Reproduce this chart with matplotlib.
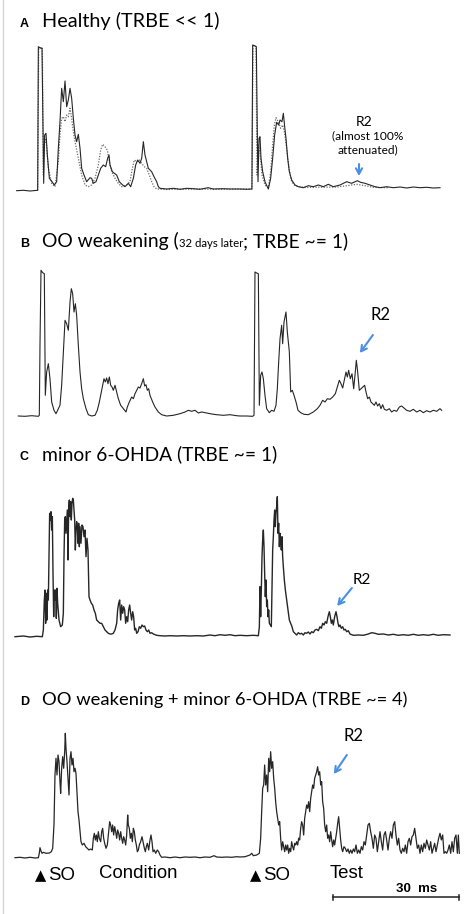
"""Blink reflex R2 traces for four conditions (panels A-D)."""

import matplotlib

matplotlib.use("Agg")
import matplotlib.pyplot as plt

W, H = 474, 914
TITLE_FONT = ["Lato", "DejaVu Sans"]
LABEL_FONT = ["Liberation Sans", "DejaVu Sans"]
TRACE = "#262626"
BLUE = "#4a8fe3"
AXIS_MS = 455 / 4.2  # the 30 ms bar is 126 px wide

# traces: (time in ms, amplitude in a.u. above baseline)
a_solid = [
    (1.59, 0.3), (3.17, 0.7), (4.76, 0), (6.59, 0.7), (6.75, 144.3), (7.14, 143.3), (7.62, 142.7),
    (7.86, 56), (8.02, 7.7), (8.25, 56), (8.57, 57.7), (8.89, 36), (9.37, 12.7), (10.0, 9.3),
    (10.56, 6), (11.11, 9.3), (11.51, 42.7), (11.90, 69.3), (12.30, 102.7), (12.70, 89.3),
    (13.10, 110), (13.49, 84.3), (13.89, 91), (14.29, 102.7), (14.68, 92.7), (15.08, 72.7),
    (15.48, 56), (15.87, 49.3), (16.27, 56.7), (16.67, 42.7), (17.06, 22.7), (17.62, 16),
    (18.25, 9.3), (19.05, 13.3), (19.44, 12.7), (19.84, 7.7), (20.48, 9.3), (21.03, 16),
    (21.59, 22.7), (22.22, 26), (22.78, 24.3), (23.25, 32.7), (23.57, 36), (23.81, 26),
    (24.37, 19.3), (24.84, 17.7), (25.40, 16), (26.03, 9.3), (26.83, 6), (27.38, 4.3),
    (28.17, 7.7), (28.73, 4.3), (29.37, 12.7), (29.92, 26), (30.40, 31), (30.95, 27.7),
    (31.35, 32.7), (31.75, 49.3), (32.14, 36), (32.54, 29.3), (32.94, 22.7), (33.73, 19.3),
    (34.29, 14.3), (34.92, 9.3), (35.32, 4.3), (35.71, 2.7), (37.3, 2), (38.9, 2.7),
    (40.5, 1.7), (42.1, 2.7), (43.65, 2.3), (45.2, 1.7), (47.2, 3.3), (48.4, 2), (50.8, 2.3),
    (52.4, 2), (54.76, 2), (56.35, 1.7), (57.6, 2), (57.78, 146), (58.25, 145.3), (58.65, 144.3),
    (58.89, 56), (59.05, 9.3), (59.29, 52.7), (59.52, 54.3), (59.76, 32.7), (60.16, 19.3),
    (60.71, 9.3), (61.51, 2), (62.06, 12.7), (62.54, 32.7), (63.01, 56), (63.49, 68.7),
    (63.97, 66), (64.29, 71), (64.76, 69.3), (65.08, 77.7), (65.40, 64.3), (65.71, 52.7),
    (66.11, 32.7), (66.51, 19.3), (67.06, 11), (67.86, 6), (68.65, 4.3), (69.84, 3.3),
    (71.03, 5.3), (72.22, 4.3), (73.41, 6), (74.6, 4.3), (75.79, 6.7), (76.98, 4.3), (78.57, 6),
    (80.16, 9.3), (81.35, 7.7), (82.7, 10.3), (83.49, 8.7), (84.52, 7.7), (85.71, 6),
    (86.9, 4.3), (88.1, 3.3), (89.68, 4.3), (91.27, 3.3), (92.86, 4), (94.44, 3), (96.03, 4),
    (97.62, 3.3), (99.21, 3.7), (100.79, 3), (102.38, 3.3),
]
a_dotted = [
    (6.59, 0.7), (6.83, 142.7), (7.70, 143.3), (7.94, 16), (8.17, 46), (8.57, 52.7), (9.13, 22.7),
    (9.92, 7.7), (10.71, 4.3), (11.51, 29.3), (11.90, 56), (12.30, 72.7), (12.70, 74.3),
    (13.10, 69.3), (13.49, 76), (13.89, 74.3), (14.29, 82.7), (14.68, 72.7), (15.08, 59.3),
    (15.48, 49.3), (16.27, 32.7), (17.06, 16), (17.86, 6), (18.65, 4.3), (19.44, 6),
    (20.24, 12.7), (21.03, 26), (21.59, 41), (22.06, 46.7), (22.62, 44.3), (23.17, 41),
    (23.65, 29.3), (24.21, 19.3), (25.0, 12.7), (25.79, 7.7), (26.59, 4.3), (27.78, 6),
    (28.57, 9.3), (29.13, 22.7), (29.60, 31), (30.16, 29.3), (30.79, 31), (31.35, 27.7),
    (31.98, 24.3), (32.54, 22.7), (33.17, 16), (33.73, 9.3), (34.29, 4.3), (34.92, 2),
    (37.3, 1.5), (40.0, 1.8), (45.0, 2.0), (50.0, 1.7), (55.0, 2.0), (57.6, 2), (57.86, 145.3),
    (58.57, 144.3), (58.81, 16), (59.13, 46), (59.52, 39.3), (60.0, 16), (60.71, 6), (61.51, 3.3),
    (62.06, 19.3), (62.54, 46), (62.94, 66), (63.33, 73.3), (63.89, 69.3), (64.44, 62.7),
    (64.92, 66), (65.32, 59.3), (65.87, 42.7), (66.43, 22.7), (67.06, 9.3), (67.86, 5.3),
    (70.0, 3.5), (74.0, 3.8), (78.0, 4.0), (80.16, 5.3), (82.54, 6.7), (84.52, 5.3), (86.5, 3.7),
    (90.0, 3.3),
]
b_trace = [
    (1.98, 0), (3.57, -0.3), (5.16, 0.3), (6.75, -0.3), (6.98, 0.7), (7.14, 70.7), (7.38, 145.7),
    (7.78, 143.3), (8.17, 142.3), (8.41, 20.7), (8.73, 44), (9.13, 52.3), (9.52, 37.3),
    (9.92, 14), (10.48, 5.7), (10.95, 2.3), (11.51, 7.3), (11.9, 10.7), (12.3, 30.7), (12.7, 64),
    (13.1, 95.7), (13.49, 92.3), (13.89, 85.7), (14.29, 114), (14.6, 127.3), (14.92, 122.3),
    (15.24, 104), (15.56, 112.3), (15.87, 100.7), (16.27, 70.7), (16.67, 44), (17.06, 27.3),
    (17.46, 17.3), (18.1, 7.3), (18.65, 1.3), (19.44, 0), (20.24, 0.7), (20.79, 5.7),
    (21.27, 14), (21.67, 22.3), (22.06, 30.7), (22.38, 37.3), (22.7, 34), (23.02, 38),
    (23.33, 32.3), (23.65, 39), (23.97, 30.7), (24.29, 29), (24.6, 25.7), (25.0, 30.7),
    (25.4, 24), (25.79, 17.3), (26.35, 10.7), (26.98, 7.3), (27.62, 4), (27.94, 9), (28.41, 14),
    (28.97, 19), (29.37, 17.3), (29.76, 22.3), (30.16, 25.7), (30.56, 29), (30.95, 28),
    (31.35, 32.3), (31.75, 37.3), (32.06, 30), (32.38, 31.3), (32.7, 25.7), (33.02, 27.3),
    (33.33, 20.7), (33.97, 14), (34.52, 9), (35.32, 4), (36.11, 1.3), (37.3, 0), (38.89, 0.7),
    (40.48, 2.3), (41.67, 4), (42.46, 5.7), (43.25, 4.7), (44.05, 5.7), (44.84, 3), (45.63, 4),
    (46.83, 3), (48.02, 2), (49.21, 1.3), (50.79, 0.7), (52.38, 1.3), (53.97, 0.3),
    (54.76, 0), (56.35, 0), (57.78, -0.3), (58.1, 0.7), (58.33, 144), (58.73, 143),
    (59.13, 142.3), (59.37, 10.7), (59.68, 40.7), (60.0, 44), (60.32, 37.3), (60.71, 20.7),
    (61.11, 7.3), (61.75, 3.3), (62.3, 5.7), (62.86, 4.7), (63.33, 10.7), (63.65, 27.3),
    (63.97, 54), (64.29, 77.3), (64.68, 90.7), (64.92, 72.3), (65.24, 94), (65.71, 104),
    (66.03, 84), (66.51, 64), (66.83, 24), (67.22, 25.7), (67.62, 20.7), (68.1, 14),
    (68.57, 5.7), (69.21, 3.3), (70.0, 1.7), (71.03, 1.3), (72.22, 4), (73.17, 7.3),
    (73.81, 10.7), (74.44, 15.7), (75.0, 14), (75.56, 17.3), (76.19, 16.7), (76.83, 19),
    (77.46, 22.3), (77.94, 29), (78.41, 35.7), (78.81, 32.3), (79.21, 28), (79.68, 37.3),
    (80.0, 44), (80.32, 39), (80.63, 45.7), (81.03, 37.3), (81.43, 42.3), (81.83, 27.3),
    (82.14, 40.7), (82.46, 55.7), (82.78, 44), (83.17, 25.7), (83.57, 27.3), (83.97, 29),
    (84.44, 30.7), (84.76, 24), (85.16, 17.3), (85.56, 19), (85.95, 14), (86.35, 12.3),
    (86.75, 10.7), (87.14, 14), (87.54, 10), (87.94, 12.3), (88.33, 7.3), (88.73, 11.3),
    (89.13, 6.7), (89.68, 5.7), (90.32, 7.3), (90.87, 4), (91.43, 5.7), (92.06, 4.7), (92.7, 9),
    (93.25, 10), (93.81, 8), (94.44, 5.7), (95.24, 4.7), (96.03, 6.7), (96.83, 4), (97.62, 5.7),
    (98.41, 3.3), (99.21, 5.3), (100.0, 4), (100.79, 5.7), (101.59, 4.7), (102.38, 7.3),
    (102.78, 5.7),
]
c_trace = [
    (1.19, 0.3), (3.17, 1), (4.76, 0), (6.35, 0.7), (7.70, 0.3), (7.94, 7), (8.17, 37), (8.33, 47),
    (8.49, 13.7), (8.65, 43.7), (8.81, 17), (8.97, 47), (9.13, 37), (9.29, 80.3), (9.44, 123.7),
    (9.60, 117), (9.76, 125.3), (9.92, 107), (10.08, 120.3), (10.24, 63.7), (10.40, 20.3),
    (10.56, 47), (10.71, 37), (10.87, 47), (11.03, 18.7), (11.19, 48.7), (11.35, 33.7),
    (11.67, 17), (12.06, 10.3), (12.46, 12), (12.70, 23.7), (12.86, 80.3), (13.02, 117),
    (13.17, 120.3), (13.33, 103.7), (13.49, 115.3), (13.65, 127), (13.81, 77), (13.97, 130.3),
    (14.13, 137), (14.29, 120.3), (14.44, 135.3), (14.60, 117), (14.76, 133.7), (14.92, 138.7),
    (15.08, 137), (15.24, 127), (15.40, 117), (15.56, 87), (15.71, 107), (15.87, 115.3),
    (16.03, 110.3), (16.19, 93.7), (16.35, 113.7), (16.51, 90.3), (16.67, 110.3), (16.90, 93.7),
    (17.14, 112), (17.38, 110.3), (17.62, 100.3), (17.86, 107), (18.10, 80.3), (18.33, 98.7),
    (18.57, 87), (18.81, 40.3), (19.05, 37), (19.37, 33.7), (19.68, 32), (20.0, 27),
    (20.32, 23.7), (20.63, 17), (21.03, 15.3), (21.43, 13.7), (21.83, 13.7), (22.22, 10.3),
    (22.62, 7), (23.02, 5.3), (23.41, 3.7), (23.81, 3), (24.21, 3), (24.60, 3.7), (25.0, 7),
    (25.40, 13.7), (25.63, 27), (25.87, 33.7), (26.11, 37), (26.35, 17), (26.59, 32),
    (26.83, 23.7), (27.06, 30.3), (27.30, 27), (27.54, 13.7), (27.78, 20.3), (28.02, 15.3),
    (28.25, 27), (28.49, 32), (28.73, 23.7), (28.97, 17), (29.21, 25.3), (29.44, 20.3),
    (29.68, 7), (29.92, 8.7), (30.16, 3.7), (30.48, 5.3), (30.79, 10.3), (31.11, 8.7),
    (31.43, 12), (31.75, 10.3), (32.06, 11), (32.38, 7), (32.70, 5.3), (33.02, 7), (33.33, 3.7),
    (33.73, 4.3), (34.13, 3), (34.92, 1.7), (35.71, 1.3), (36.9, 1), (38.1, 1.3), (39.68, 1),
    (41.27, 1.3), (42.86, 1), (44.44, 1.3), (46.03, 1), (47.62, 2), (48.81, 1.3), (50.0, 2.3),
    (51.19, 1.7), (52.38, 2.3), (53.57, 1.3),
    (54.76, 1.7), (56.35, 1.3), (57.94, 1.7), (59.13, 1.3), (59.37, 10.3), (59.52, 50.3),
    (59.68, 20.3), (59.84, 47), (60.0, 80.3), (60.16, 97), (60.32, 107), (60.48, 90.3),
    (60.63, 63.7), (60.79, 40.3), (60.95, 57), (61.11, 30.3), (61.27, 37), (61.43, 20.3),
    (61.59, 27), (61.75, 13.7), (61.98, 12), (62.22, 10.3), (62.38, 47), (62.54, 87),
    (62.70, 100.3), (62.86, 117), (63.02, 127), (63.17, 110.3), (63.33, 123.7), (63.49, 130.3),
    (63.65, 140.3), (63.81, 103.7), (63.97, 113.7), (64.13, 90.3), (64.29, 103.7), (64.44, 97),
    (64.60, 87), (64.76, 100.3), (64.92, 80.3), (65.08, 70.3), (65.32, 57), (65.56, 47),
    (65.87, 37), (66.19, 27), (66.51, 17), (66.83, 13.7), (67.14, 10.3), (67.46, 5.3),
    (67.86, 3.7), (68.25, 2), (68.65, 4.3), (69.05, 3), (69.44, 3.7), (69.84, 2), (70.24, 4.3),
    (70.63, 3.7), (71.03, 5), (71.43, 3), (71.83, 5.3), (72.22, 4.3), (72.62, 7), (73.02, 7.7),
    (73.41, 6.3), (73.81, 10.3), (74.13, 8.7), (74.44, 13.7), (74.76, 12), (75.08, 15.3),
    (75.40, 13.7), (75.71, 20.3), (76.03, 25.3), (76.27, 20.3), (76.51, 13.7), (76.75, 17),
    (76.98, 12), (77.30, 20.3), (77.62, 25.3), (77.86, 20.3), (78.10, 13.7), (78.33, 10.3),
    (78.57, 12), (78.89, 8.7), (79.21, 10.3), (79.52, 7), (79.84, 7.7), (80.16, 5.3),
    (80.56, 6.3), (80.95, 3), (81.75, 1.7), (82.94, 2), (84.13, 1.7), (85.32, 3), (86.11, 4.3),
    (86.9, 3.7), (87.7, 2.7), (88.89, 3), (90.08, 2), (91.27, 2.7), (92.46, 1.7), (93.65, 2.3),
    (94.84, 1.7), (96.03, 2.7), (97.22, 1.7), (98.41, 2.3), (99.6, 1.7), (100.79, 2.7),
    (101.98, 1.7), (103.17, 2.3), (104.76, 2),
]
d_trace = [
    (1.19, 0.3), (2.38, 0.7), (3.57, 0), (4.76, 0.7), (5.95, 0), (6.75, 0.3), (6.98, 4.7),
    (7.14, 10.3), (7.38, 7), (7.62, 4.7), (7.94, 5.7), (8.57, 4.7), (9.37, 5), (9.84, 6.3),
    (10.16, 9.7), (10.48, 34), (10.71, 83), (10.95, 99.7), (11.19, 83), (11.43, 103),
    (11.67, 96.3), (11.9, 76.3), (12.06, 64.7), (12.30, 89.7), (12.54, 101.3), (12.78, 89.7),
    (13.02, 106.3), (13.17, 124.7), (13.33, 109.7), (13.57, 96.3), (13.81, 79.7), (14.05, 63),
    (14.29, 99.7), (14.52, 106.3), (14.76, 93), (15.0, 99.7), (15.24, 86.3), (15.48, 89.7),
    (15.71, 84.7), (15.95, 66.3), (16.19, 46.3), (16.43, 38), (16.67, 26.3), (16.90, 16.3),
    (17.22, 13), (17.62, 14.7), (18.02, 11.3), (18.41, 9.7), (18.81, 8), (19.21, 9), (19.60, 8),
    (19.84, 19.7), (20.08, 24.7), (20.32, 18), (20.56, 23), (20.79, 16.3), (21.03, 26.3),
    (21.27, 19.7), (21.59, 16.3), (21.83, 26.3), (22.06, 29.7), (22.30, 19.7), (22.54, 14.7),
    (22.86, 9.7), (23.17, 13), (23.49, 26.3), (23.73, 36.3), (23.97, 33), (24.21, 26.3),
    (24.44, 33), (24.68, 23), (24.92, 31.3), (25.16, 26.3), (25.40, 19.7), (25.63, 28),
    (25.87, 24.7), (26.11, 18), (26.35, 26.3), (26.59, 19.7), (26.83, 14.7), (27.06, 21.3),
    (27.30, 18), (27.54, 13), (27.78, 23), (28.02, 43), (28.17, 33), (28.41, 29.7),
    (28.65, 19.7), (28.89, 24.7), (29.13, 16.3), (29.37, 29.7), (29.60, 26.3), (29.84, 18),
    (30.08, 13), (30.32, 6.3), (30.56, 8), (30.79, 13), (31.11, 16.3), (31.43, 21.3),
    (31.75, 15), (31.98, 10), (32.22, 6.3), (32.46, 11.3), (32.70, 14.7), (33.02, 8),
    (33.33, 18), (33.57, 23), (33.81, 16.3), (34.05, 6.3), (34.37, 8), (34.68, 4.7), (35.08, 8),
    (35.40, 6.3), (35.71, 3), (36.11, 0.7), (36.9, 1), (38.1, 0.3), (39.29, 1), (40.48, 0.3),
    (41.67, 1), (42.86, 0.7), (44.05, 1), (45.24, 0.3), (46.43, 1), (47.62, 0.7), (48.57, 2.3),
    (49.21, 1), (50.40, 0.7), (51.59, 1), (52.78, 0.7), (53.97, 1.3),
    (54.76, 1), (55.95, 1.3), (57.14, 3), (57.54, 4.7), (57.94, 2.3), (58.73, 3), (59.37, 4.7),
    (59.68, 19.7), (59.92, 46.3), (60.16, 69.7), (60.40, 73), (60.63, 93), (60.87, 73),
    (61.11, 83), (61.35, 66.3), (61.59, 99.7), (61.83, 86.3), (62.06, 106.3), (62.30, 89.7),
    (62.54, 96.3), (62.78, 79.7), (63.02, 69.7), (63.25, 56.3), (63.49, 46.3), (63.73, 39.7),
    (63.97, 33), (64.21, 36.3), (64.44, 19.7), (64.68, 8), (64.92, 16.3), (65.16, 11.3),
    (65.40, 6.3), (65.63, 13), (65.87, 8), (66.11, 13), (66.35, 4.7), (66.59, 9.7), (66.83, 6.3),
    (67.06, 16.3), (67.30, 11.3), (67.54, 8), (67.78, 14.7), (68.02, 13), (68.25, 16.3),
    (68.49, 13), (68.73, 19.7), (68.97, 18), (69.21, 29.7), (69.44, 36.3), (69.68, 33),
    (69.92, 23), (70.16, 39.7), (70.40, 46.3), (70.63, 53), (70.87, 49.7), (71.11, 56.3),
    (71.35, 46.3), (71.59, 59.7), (71.83, 66.3), (72.06, 73), (72.30, 69.7), (72.54, 79.7),
    (72.78, 83), (73.02, 86.3), (73.25, 91.3), (73.49, 83), (73.73, 86.3), (73.97, 73),
    (74.21, 76.3), (74.44, 56.3), (74.68, 49.7), (74.92, 33), (75.16, 26.3), (75.40, 33),
    (75.63, 19.7), (75.87, 23), (76.11, 16.3), (76.35, 26.3), (76.59, 18), (76.83, 11.3),
    (77.06, 18), (77.30, 13), (77.54, 19.7), (77.78, 26.3), (78.02, 34.7), (78.25, 41.3),
    (78.49, 29.7), (78.73, 18), (78.97, 9.7), (79.21, 6.3), (79.52, 11.3), (79.84, 9.7),
    (80.16, 6.3), (80.48, 9), (80.79, 4.7), (81.11, 8), (81.43, 4.7), (81.75, 9), (82.06, 6.3),
    (82.38, 13), (82.70, 4.7), (83.02, 8), (83.33, 4.7), (83.65, 11.3), (83.97, 8),
    (84.29, 16.3), (84.60, 13), (84.92, 23), (85.24, 33), (85.56, 34.7), (85.87, 26.3),
    (86.19, 19.7), (86.51, 9.7), (86.83, 23), (87.14, 19.7), (87.46, 6.3), (87.78, 16.3),
    (88.10, 26.3), (88.41, 16.3), (88.73, 8), (89.05, 23), (89.37, 26.3), (89.68, 18), (90.00, 8),
    (90.32, 19.7), (90.63, 26.3), (90.95, 19.7), (91.27, 33), (91.59, 36.3), (91.90, 23),
    (92.22, 13), (92.54, 19.7), (92.86, 8), (93.17, 4.7), (93.49, 9.7), (93.81, 6.3), (94.13, 13),
    (94.44, 4.7), (94.76, 16.3), (95.08, 19.7), (95.40, 13), (95.71, 21.3), (96.03, 23),
    (96.35, 29.7), (96.67, 19.7), (96.98, 9.7), (97.30, 13), (97.62, 4.7), (97.94, 13),
    (98.25, 6.3), (98.57, 14.7), (98.89, 9.7), (99.21, 18), (99.52, 13), (99.84, 8),
    (100.16, 16.3), (100.48, 4.7), (100.79, 9.7), (101.11, 14.7), (101.43, 6.3), (101.75, 13),
    (102.06, 19.7), (102.38, 24.7), (102.70, 18), (103.02, 23), (103.33, 4.7), (103.65, 6.3),
    (103.97, 4.7), (104.29, 8), (104.60, 13), (104.92, 4.7), (105.24, 16.3), (105.56, 6.3),
    (105.87, 19.7), (106.19, 23), (106.51, 4.7), (106.75, 23), (106.98, 4.7),
]

letters = ["A", "B", "C", "D"]
titles = [
    [("Healthy (TRBE << 1)", 14.3)],
    [("OO weakening (", 13.9), ("32 days later", 8.2), ("; TRBE ~= 1)", 13.9)],
    [("minor 6-OHDA (TRBE ~= 1)", 13.9)],
    [("OO weakening + minor 6-OHDA (TRBE ~= 4)", 13.2)],
]
title_baselines = [27, 247, 460, 705]
stim_labels = [("\u25b2", "SO", 5.95), ("", "Condition", 21.2), ("\u25b2", "SO", 57.1), ("", "Test", 76.2)]
scale_ms = 30


def px_box(top, bottom, left=10, right=465):
    return [left / W, 1 - bottom / H, (right - left) / W, (bottom - top) / H]


def put_runs(fig, x, y, runs):
    """Write text runs one after another on a shared baseline (pixel coords)."""
    renderer = fig.canvas.get_renderer()
    for text, size in runs:
        t = fig.text(x / W, 1 - y / H, text, fontsize=size, family=TITLE_FONT,
                     ha="left", va="baseline")
        x += t.get_window_extent(renderer).width


def arrow(ax, tip, tail):
    ax.annotate("", xy=tip, xytext=tail,
                arrowprops=dict(arrowstyle="->,head_length=0.4,head_width=0.22",
                                color=BLUE, lw=1.5, shrinkA=0, shrinkB=0))


def main():
    fig = plt.figure(figsize=(W / 100, H / 100), dpi=100)

    ax_a = fig.add_axes(px_box(35, 200))
    ax_b = fig.add_axes(px_box(262, 422))
    ax_c = fig.add_axes(px_box(490, 645))
    ax_d = fig.add_axes(px_box(725, 914))
    ax_a.set_ylim(-9, 156)
    ax_b.set_ylim(-6, 154)
    ax_c.set_ylim(-8, 147)
    ax_d.set_ylim(-56, 133)
    for ax in (ax_a, ax_b, ax_c, ax_d):
        ax.set_xlim(0, AXIS_MS)
        ax.axis("off")

    ax_a.plot(*zip(*a_dotted), color="#6a6a6a", lw=0.9, ls=(0, (1, 1.2)))
    ax_a.plot(*zip(*a_solid), color=TRACE, lw=0.8)
    ax_b.plot(*zip(*b_trace), color=TRACE, lw=0.8)
    ax_c.plot(*zip(*c_trace), color=TRACE, lw=1.0)
    ax_d.plot(*zip(*d_trace), color=TRACE, lw=0.9)

    # titles
    for letter, runs, y in zip(letters, titles, title_baselines):
        fig.text(20 / W, 1 - y / H, letter, fontsize=9, fontweight="bold",
                 family=LABEL_FONT, va="baseline")
        put_runs(fig, 42, y, runs)

    # R2 markers
    ax_a.text(84.3, 69, "R2", fontsize=10, family=TITLE_FONT, ha="center", va="center")
    ax_a.text(85.2, 55, "(almost 100%", fontsize=8.6, family=TITLE_FONT, ha="center", va="center")
    ax_a.text(85.2, 41, "attenuated)", fontsize=8.6, family=TITLE_FONT, ha="center", va="center")
    arrow(ax_a, (83.1, 15), (83.1, 27))

    ax_b.text(88.3, 101, "R2", fontsize=12, family=TITLE_FONT, ha="center", va="center")
    arrow(ax_b, (83.3, 63), (86.4, 81))

    ax_c.text(83.8, 57, "R2", fontsize=11, family=TITLE_FONT, ha="center", va="center")
    arrow(ax_c, (77.9, 31), (81.4, 49))

    ax_d.text(81.9, 122, "R2", fontsize=12, family=TITLE_FONT, ha="center", va="center")
    arrow(ax_d, (77.1, 84), (80.2, 103))

    # stimulus labels and time scale in panel D
    for mark, word, t in stim_labels:
        if mark:
            ax_d.text(t, -17.5, mark, fontsize=10.5, family=["DejaVu Sans"], ha="left", va="center")
            ax_d.text(t + 3.2, -17, word, fontsize=13.4, family=LABEL_FONT, ha="left", va="center")
        else:
            ax_d.text(t, -15, word, fontsize=13.4, family=LABEL_FONT, ha="left", va="center")

    bar_start = 76.9
    ax_d.plot([bar_start, bar_start + scale_ms], [-39, -39], color="#222222", lw=1.1)
    for t in (bar_start, bar_start + scale_ms):
        ax_d.plot([t, t], [-36.5, -41.5], color="#222222", lw=1.1)
    ax_d.text(bar_start + 20, -31, "30  ms", fontsize=9.5, fontweight="bold",
              family=LABEL_FONT, ha="center", va="center")

    # faint scan edge on the left
    fig.add_artist(plt.Line2D([3 / W, 3 / W], [0, 1], color="#d4d4d4", lw=1))

    fig.savefig("out.png", dpi=100)


if __name__ == "__main__":
    main()
